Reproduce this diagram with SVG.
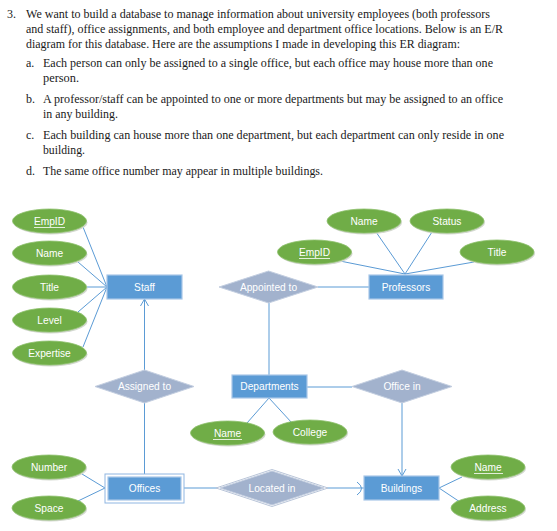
<svg xmlns="http://www.w3.org/2000/svg" width="557" height="531" viewBox="0 0 557 531">
<style>
.q{font-family:"Liberation Serif","Times New Roman",serif;font-size:12px;fill:#1a1a1a}
.t{font-family:"Liberation Sans",Arial,sans-serif;font-size:10.2px;fill:#fff;text-anchor:middle;dominant-baseline:central}
.att{fill:#70ad47;stroke:#8cbf6a;stroke-width:0.8}
.sh{fill:#d3d8cf}
.ent{fill:#5b9bd5;stroke:#a9c7e8;stroke-width:1.2}
.rel{fill:#a2b2cd;stroke:#c3cee0;stroke-width:1}
.ln{stroke:#5b9bd5;stroke-width:1;fill:none}
.ul{stroke:#fff;stroke-width:0.8}
</style>
<rect width="557" height="531" fill="#fff"/>
<g id="question">
<text class="q" x="7" y="17.5">3.</text>
<text class="q" x="26" y="17.5" textLength="464" lengthAdjust="spacingAndGlyphs">We want to build a database to manage information about university employees (both professors</text>
<text class="q" x="26" y="32.5" textLength="477" lengthAdjust="spacingAndGlyphs">and staff), office assignments, and both employee and department office locations. Below is an E/R</text>
<text class="q" x="26" y="47.5" textLength="434" lengthAdjust="spacingAndGlyphs">diagram for this database. Here are the assumptions I made in developing this ER diagram:</text>
<text class="q" x="26" y="66.5">a.</text>
<text class="q" x="43" y="66.5" textLength="450" lengthAdjust="spacingAndGlyphs">Each person can only be assigned to a single office, but each office may house more than one</text>
<text class="q" x="43" y="81.5" textLength="36" lengthAdjust="spacingAndGlyphs">person.</text>
<text class="q" x="26" y="103.3">b.</text>
<text class="q" x="43" y="103.3" textLength="460" lengthAdjust="spacingAndGlyphs">A professor/staff can be appointed to one or more departments but may be assigned to an office</text>
<text class="q" x="43" y="118.3" textLength="75" lengthAdjust="spacingAndGlyphs">in any building.</text>
<text class="q" x="26" y="139.3">c.</text>
<text class="q" x="43" y="139.3" textLength="461" lengthAdjust="spacingAndGlyphs">Each building can house more than one department, but each department can only reside in one</text>
<text class="q" x="43" y="154.3" textLength="42" lengthAdjust="spacingAndGlyphs">building.</text>
<text class="q" x="26" y="175">d.</text>
<text class="q" x="43" y="175" textLength="280" lengthAdjust="spacingAndGlyphs">The same office number may appear in multiple buildings.</text>
</g>
<g id="connectors">
<path class="ln" d="M83,227 L107,287 M78,262 L107,287 M87,287 L107,287 M78,312 L107,287 M83,347 L107,287"/>
<path class="ln" d="M144.5,370 L144.5,299 M140.5,306 L144.5,299 L148.5,306"/>
<path class="ln" d="M144.5,403 L144.5,474"/>
<path class="ln" d="M82,474 L105,488 M78,501 L105,488"/>
<path class="ln" d="M184,488 L217,488"/>
<path class="ln" d="M327,488 L364,488 M357,482 Q366,488.5 357,495"/>
<path class="ln" d="M462,477 L439,488 M460,502 L439,488"/>
<path class="ln" d="M307,387 L352,387"/>
<path class="ln" d="M402,403 L402,476 M398,469 L402,476 L406,469"/>
<path class="ln" d="M269,303 L269,375"/>
<path class="ln" d="M269,398 L247,423 M269,398 L292,423"/>
<path class="ln" d="M318,287 L369,287"/>
<path class="ln" d="M340,261 L405,274 M376,232 L405,274 M432,232 L405,274 M474,262 L405,274"/>
</g>
<g id="staff"><rect class="ent" x="107" y="275" width="75" height="24"/><text class="t" x="144.5" y="287">Staff</text></g>
<g id="staff-empid"><ellipse class="sh" cx="50.5" cy="222.5" rx="37" ry="12"/><ellipse class="att" cx="49.5" cy="221" rx="37" ry="12"/><text class="t" x="49.5" y="221">EmpID</text><line class="ul" x1="34" y1="227.5" x2="65" y2="227.5"/></g>
<g id="staff-name"><ellipse class="sh" cx="50.5" cy="254.5" rx="37" ry="12"/><ellipse class="att" cx="49.5" cy="253" rx="37" ry="12"/><text class="t" x="49.5" y="253">Name</text></g>
<g id="staff-title"><ellipse class="sh" cx="50.5" cy="288.5" rx="37" ry="12"/><ellipse class="att" cx="49.5" cy="287" rx="37" ry="12"/><text class="t" x="49.5" y="287">Title</text></g>
<g id="staff-level"><ellipse class="sh" cx="50.5" cy="321.5" rx="37" ry="12"/><ellipse class="att" cx="49.5" cy="320" rx="37" ry="12"/><text class="t" x="49.5" y="320">Level</text></g>
<g id="staff-expertise"><ellipse class="sh" cx="50.5" cy="354.5" rx="37" ry="12"/><ellipse class="att" cx="49.5" cy="353" rx="37" ry="12"/><text class="t" x="49.5" y="353">Expertise</text></g>
<g id="appointed-to"><polygon class="rel" points="219,287 268.5,271 318,287 268.5,303"/><text class="t" x="268.5" y="287">Appointed to</text></g>
<g id="professors"><rect class="ent" x="369" y="275" width="74" height="24"/><text class="t" x="406" y="287">Professors</text></g>
<g id="prof-empid"><ellipse class="sh" cx="315.5" cy="253.5" rx="37" ry="12"/><ellipse class="att" cx="314.5" cy="252" rx="37" ry="12"/><text class="t" x="314.5" y="252">EmpID</text><line class="ul" x1="299" y1="258.5" x2="330" y2="258.5"/></g>
<g id="prof-name"><ellipse class="sh" cx="365" cy="222.5" rx="37" ry="12"/><ellipse class="att" cx="364" cy="221" rx="37" ry="12"/><text class="t" x="364" y="221">Name</text></g>
<g id="prof-status"><ellipse class="sh" cx="448" cy="222.5" rx="37" ry="12"/><ellipse class="att" cx="447" cy="221" rx="37" ry="12"/><text class="t" x="447" y="221">Status</text></g>
<g id="prof-title"><ellipse class="sh" cx="498" cy="253.5" rx="37" ry="12"/><ellipse class="att" cx="497" cy="252" rx="37" ry="12"/><text class="t" x="497" y="252">Title</text></g>
<g id="assigned-to"><polygon class="rel" points="95,386.5 144.5,370 194,386.5 144.5,403"/><text class="t" x="144.5" y="386.5">Assigned to</text></g>
<g id="departments"><rect class="ent" x="232" y="375" width="75" height="23"/><text class="t" x="269.5" y="386.5">Departments</text></g>
<g id="dept-name"><ellipse class="sh" cx="228.5" cy="434.5" rx="37" ry="12"/><ellipse class="att" cx="227.5" cy="433" rx="37" ry="12"/><text class="t" x="227.5" y="433">Name</text><line class="ul" x1="213" y1="439.5" x2="242" y2="439.5"/></g>
<g id="dept-college"><ellipse class="sh" cx="311" cy="433.5" rx="37" ry="12"/><ellipse class="att" cx="310" cy="432" rx="37" ry="12"/><text class="t" x="310" y="432">College</text></g>
<g id="office-in"><polygon class="rel" points="352,386.5 402,370 452,386.5 402,403"/><text class="t" x="402" y="386.5">Office in</text></g>
<g id="offices"><rect x="105" y="474" width="79" height="29" fill="#fff" stroke="#8fb6e2" stroke-width="1"/><rect class="ent" x="108" y="477" width="73" height="23"/><text class="t" x="144.5" y="488.5">Offices</text></g>
<g id="office-number"><ellipse class="sh" cx="50" cy="468.5" rx="37" ry="12"/><ellipse class="att" cx="49" cy="467" rx="37" ry="12"/><text class="t" x="49" y="467">Number</text></g>
<g id="office-space"><ellipse class="sh" cx="50" cy="509.5" rx="37" ry="12"/><ellipse class="att" cx="49" cy="508" rx="37" ry="12"/><text class="t" x="49" y="508">Space</text></g>
<g id="located-in"><polygon points="216,488 272,469.5 328,488 272,506.5" fill="#fff" stroke="#b8c4d8" stroke-width="1"/><polygon class="rel" points="220,488 272,471 324,488 272,505"/><text class="t" x="272" y="488">Located in</text></g>
<g id="buildings"><rect class="ent" x="364" y="476" width="75" height="24"/><text class="t" x="401.5" y="488">Buildings</text></g>
<g id="bldg-name"><ellipse class="sh" cx="489" cy="468.5" rx="37" ry="12"/><ellipse class="att" cx="488" cy="467" rx="37" ry="12"/><text class="t" x="488" y="467">Name</text><line class="ul" x1="474" y1="473.5" x2="503" y2="473.5"/></g>
<g id="bldg-address"><ellipse class="sh" cx="489" cy="509.5" rx="37" ry="12"/><ellipse class="att" cx="488" cy="508" rx="37" ry="12"/><text class="t" x="488" y="508">Address</text></g>
</svg>
